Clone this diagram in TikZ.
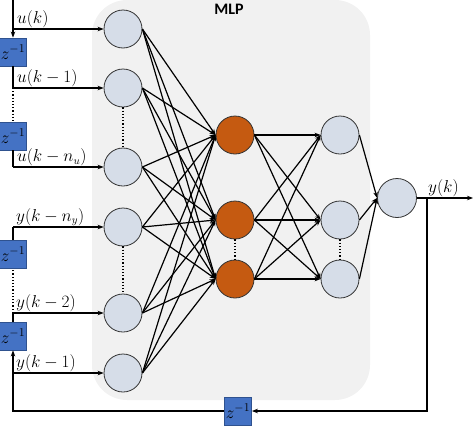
\documentclass[tikz,border=0pt]{standalone}
\usepackage{amsmath}
\usepackage{fontspec}
\usepackage{tikz}
\usetikzlibrary{arrows.meta}
\newfontfamily\mlpfont{Carlito}

\definecolor{neuroncol}{RGB}{214,221,232}
\definecolor{hidcol}{RGB}{197,90,17}
\definecolor{delaycol}{RGB}{68,114,196}
\definecolor{delayline}{RGB}{47,82,143}
\definecolor{mlpbg}{RGB}{241,241,241}

\begin{document}
\begin{tikzpicture}[x=1pt, y=-1pt,
    >={Stealth[length=6pt, width=4.5pt]},
    neuron/.style={circle, draw=black!80, line width=0.8pt, fill=neuroncol, minimum size=38pt, inner sep=0pt},
    hid/.style={neuron, fill=hidcol},
    delay/.style={draw=delayline, fill=delaycol, line width=0.8pt, minimum width=27pt, minimum height=28pt, inner sep=0pt, font=\fontsize{18}{18}\selectfont},
    sig/.style={font=\fontsize{16}{16}\selectfont, inner sep=1pt, anchor=south west},
    link/.style={->, line width=1.2pt},
    wire/.style={line width=1.2pt},
    dots/.style={dotted, line width=1.2pt}]
    \useasboundingbox (0,0) rectangle (474,426);

    % MLP block
    \fill[mlpbg, rounded corners=35pt] (92,0) rectangle (370,400);
    \node[font={\mlpfont\fontsize{16}{16}\selectfont\bfseries}] (mlp) at (229,9) {MLP};

    % Neurons
    \foreach \n/\y in {1/29, 2/88, 3/167, 4/227, 5/313, 6/373}
      \node[neuron] (in\n) at (123,\y) {};
    \foreach \n/\y in {1/135, 2/220, 3/279} {
      \node[hid] (h\n) at (235,\y) {};
      \node[neuron] (o\n) at (340,\y) {};
    }
    \node[neuron, minimum size=39pt] (out) at (397,198) {};

    % Weights
    \foreach \i in {1,...,6}
      \foreach \j in {1,2,3}
        \draw[link] (in\i.east) -- (h\j.west);
    \foreach \i in {1,2,3}
      \foreach \j in {1,2,3}
        \draw[link] (h\i.east) -- (o\j.west);
    \foreach \i in {1,2,3}
      \draw[link] (o\i.east) -- (out.west);

    \draw[dots] (in2.south) -- (in3.north);
    \draw[dots] (in4.south) -- (in5.north);
    \draw[dots] (h2.south) -- (h3.north);
    \draw[dots] (o2.south) -- (o3.north);

    % Delay line u
    \node[delay] (du1) at (13,52) {$z^{-1}$};
    \node[delay] (du2) at (13,136) {$z^{-1}$};
    \coordinate (utop) at (13,0);
    \coordinate (ju1) at (13,29);
    \coordinate (ju2) at (13,88);
    \coordinate (ju3) at (13,167);
    \draw[wire] (utop) -- (ju1);
    \draw[link] (ju1) -- (du1.north);
    \draw[link] (ju1) -- (in1.west);
    \draw[wire] (du1.south) -- (ju2);
    \draw[link] (ju2) -- (in2.west);
    \draw[dots] (ju2) -- (du2.north);
    \draw[wire] (du2.south) -- (ju3);
    \draw[link] (ju3) -- (in3.west);
    \node[sig, xshift=3pt] (lu1) at (ju1) {$u(k)$};
    \node[sig, xshift=3pt] (lu2) at (ju2) {$u(k-1)$};
    \node[sig, xshift=3pt] (lu3) at (ju3) {$u(k-n_u)$};

    % Delay line y
    \node[delay] (dy2) at (13,254) {$z^{-1}$};
    \node[delay] (dy1) at (13,336) {$z^{-1}$};
    \coordinate (jy1) at (13,227);
    \coordinate (jy2) at (13,313);
    \coordinate (jy3) at (13,373);
    \draw[wire] (dy2.north) -- (jy1);
    \draw[link] (jy1) -- (in4.west);
    \draw[dots] (jy2) -- (dy2.south);
    \draw[wire] (dy1.north) -- (jy2);
    \draw[link] (jy2) -- (in5.west);
    \draw[link] (jy3) -- (in6.west);
    \node[sig, xshift=2pt] (ly1) at (jy1) {$y(k-n_y)$};
    \node[sig, xshift=2pt] (ly2) at (jy2) {$y(k-2)$};
    \node[sig, xshift=2pt] (ly3) at (jy3) {$y(k-1)$};

    % Output and feedback
    \node[delay] (dfb) at (238,411) {$z^{-1}$};
    \coordinate (jout) at (427,198);
    \coordinate (yend) at (473,198);
    \coordinate (rcorner) at (427,411);
    \coordinate (lcorner) at (13,411);
    \draw[link] (out.east) -- (yend);
    \draw[link] (jout) -- (rcorner) -- (dfb.east);
    \draw[wire] (dfb.west) -- (lcorner) -- (jy3);
    \draw[link] (jy3) -- (dy1.south);
    \node[sig] (lout) at (jout) {$y(k)$};
\end{tikzpicture}
\end{document}
